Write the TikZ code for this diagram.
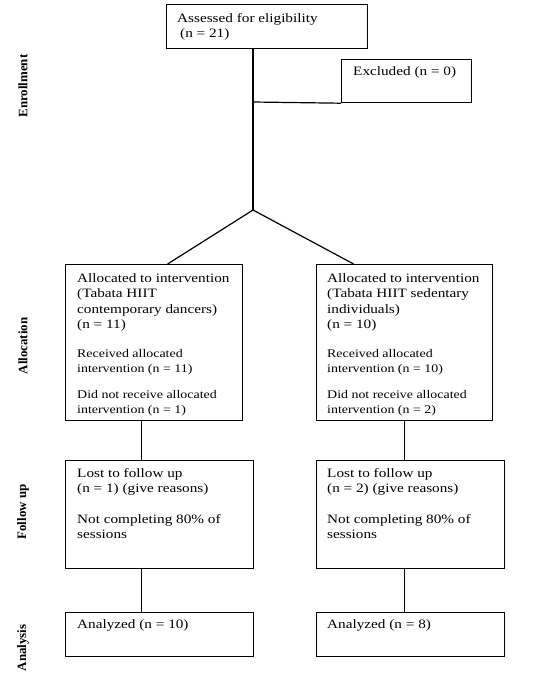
\documentclass[tikz,border=0pt]{standalone}
\usepackage{fontspec}
\setmainfont{Liberation Serif}[FakeStretch=1.19]
\newfontfamily\sidefont{Liberation Serif}
\begin{document}
\begin{tikzpicture}[x=1pt,y=1pt,
  box/.style={draw,line width=1.2pt,inner sep=0,anchor=north west},
  txt/.style={inner sep=0,anchor=base west,align=left,font=\fontsize{12.8}{15.5}\selectfont},
  stxt/.style={inner sep=0,anchor=base west,align=left,font=\fontsize{11.7}{15}\selectfont},
  side/.style={inner sep=0,rotate=90,font=\sidefont\bfseries\fontsize{12.9}{14}\selectfont},
  conn/.style={draw,line width=1.2pt}]
\useasboundingbox (0,0) rectangle (550,-680);
% boxes
\node[box,minimum width=201pt,minimum height=44pt] (top) at (166,-4) {};
\node[box,minimum width=130pt,minimum height=43pt] (excl) at (341,-59) {};
\node[box,minimum width=177pt,minimum height=156pt] (allocL) at (65,-264) {};
\node[box,minimum width=176pt,minimum height=156pt] (allocR) at (316,-264) {};
\node[box,minimum width=188pt,minimum height=108pt] (fuL) at (65,-460) {};
\node[box,minimum width=188pt,minimum height=108pt] (fuR) at (316,-460) {};
\node[box,minimum width=188pt,minimum height=44pt] (anL) at (65,-612) {};
\node[box,minimum width=188pt,minimum height=44pt] (anR) at (316,-612) {};
% texts (anchored at the baseline of their last line)
\node[txt] (tTop) at (177,-37.5) {Assessed for eligibility\\\hspace{3pt}(n = 21)};
\node[txt] (tExcl) at (353,-75.5) {Excluded (n = 0)};
\node[txt] (tAL1) at (77,-328.5) {Allocated to intervention\\(Tabata HIIT\\contemporary dancers)\\(n = 11)};
\node[stxt] (tAL2) at (77,-372) {Received allocated\\intervention (n = 11)};
\node[stxt] (tAL3) at (77,-413.5) {Did not receive allocated\\intervention (n = 1)};
\node[txt] (tAR1) at (327,-328.5) {Allocated to intervention\\(Tabata HIIT sedentary\\individuals)\\(n = 10)};
\node[stxt] (tAR2) at (327,-372) {Received allocated\\intervention (n = 10)};
\node[stxt] (tAR3) at (327,-413.5) {Did not receive allocated\\intervention (n = 2)};
\node[txt] (tFL1) at (77,-492.5) {Lost to follow up\\(n = 1) (give reasons)};
\node[txt] (tFL2) at (77,-538.5) {Not completing 80\% of\\sessions};
\node[txt] (tFR1) at (327,-492.5) {Lost to follow up\\(n = 2) (give reasons)};
\node[txt] (tFR2) at (327,-538.5) {Not completing 80\% of\\sessions};
\node[txt] (tAnL) at (77,-628) {Analyzed (n = 10)};
\node[txt] (tAnR) at (327,-628) {Analyzed (n = 8)};
% side labels
\node[side] (sEnr) at (23,-86) {Enrollment};
\node[side] (sAll) at (23,-346) {Allocation};
\node[side] (sFol) at (23,-512) {Follow up};
\node[side] (sAna) at (23,-648) {Analysis};
% connectors
\coordinate (split) at (253,-210);
\coordinate (branch) at (253,-102);
\draw[conn] (top.south -| split) -- (split);
\draw[conn] (branch) -- (excl.south west);
\draw[conn] (split) -- ([xshift=13.5pt]allocL.north);
\draw[conn] (split) -- ([xshift=-51pt]allocR.north);
\draw[conn] ([xshift=-12.5pt]allocL.south) coordinate (dl) -- (dl |- fuL.north);
\draw[conn] (allocR.south) coordinate (dr) -- (dr |- fuR.north);
\draw[conn] (dl |- fuL.south) -- (dl |- anL.north);
\draw[conn] (dr |- fuR.south) -- (dr |- anR.north);
\end{tikzpicture}
\end{document}
